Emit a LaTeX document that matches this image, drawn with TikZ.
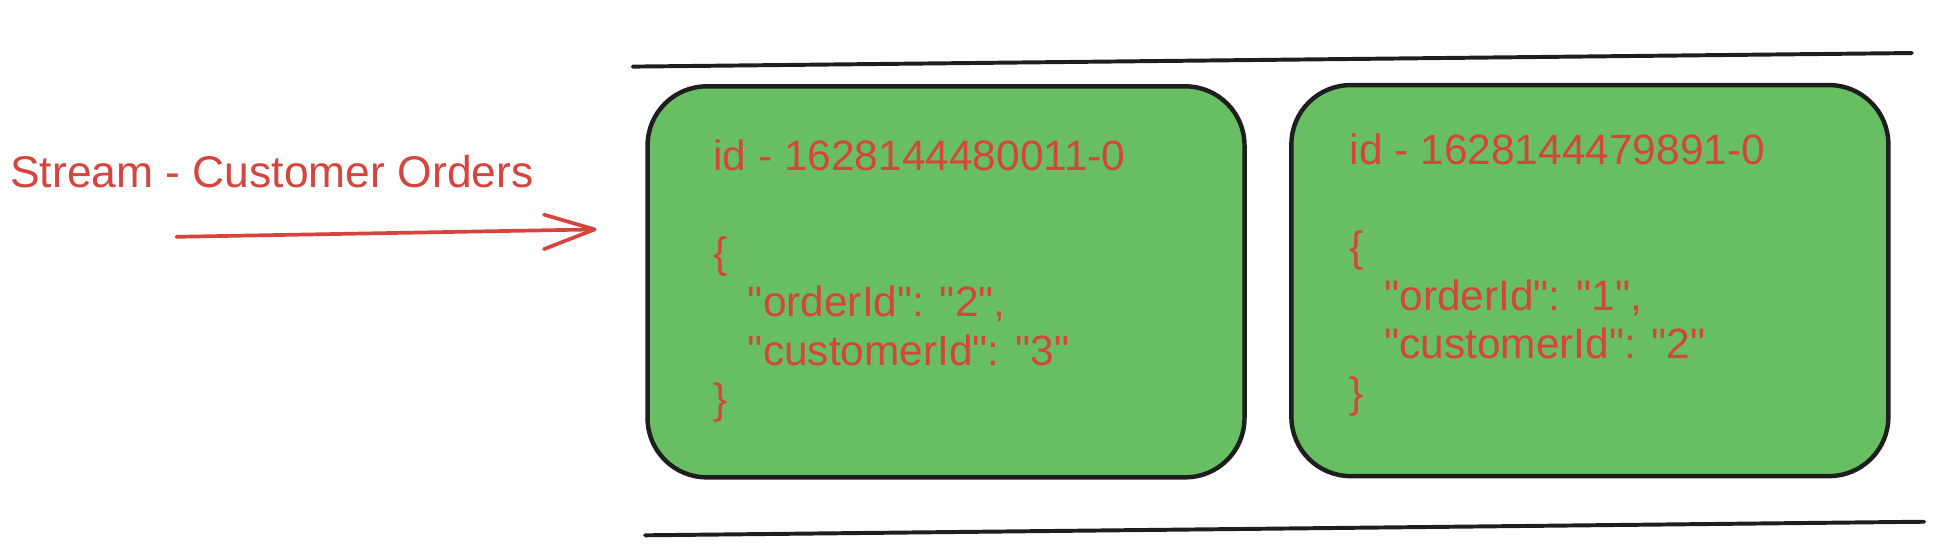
\documentclass[tikz,border=0pt]{standalone}
\usepackage{fontspec}
\setmainfont{Liberation Sans}[Ligatures=TeXOff]
\definecolor{inkred}{RGB}{214,69,61}
\definecolor{boxgreen}{RGB}{104,191,99}
\definecolor{inkblack}{RGB}{30,30,30}
\begin{document}
\begin{tikzpicture}[x=0.5pt,y=-0.5pt,
  recbox/.style={draw=inkblack,fill=boxgreen,line width=1.8pt,rounded corners=24pt,
    minimum width=242pt,minimum height=158.5pt,inner sep=0pt},
  rectext/.style={text=inkred,font=\fontsize{17.2}{19.7}\selectfont,align=left,
    anchor=north west,inner sep=0pt},
  title/.style={text=inkred,font=\fontsize{18}{20}\selectfont,anchor=base west,inner sep=0pt},
  rule/.style={draw=inkblack,line width=1.6pt,line cap=round},
  redarrow/.style={draw=inkred,line width=1.5pt,line cap=round,line join=round}]
\useasboundingbox (0,0) rectangle (1568,444);
% stream boundary lines
\coordinate (t1) at (513,54);
\coordinate (t2) at (1550,43);
\coordinate (u1) at (523,434);
\coordinate (u2) at (1560,423);
\draw[rule] (t1) -- (t2);
\draw[rule] (u1) -- (u2);
% records
\node[recbox] (box1) at (767,228.5) {};
\node[recbox] (box2) at (1289,227.5) {};
\node[rectext] (txt1) at (578,113) {id - 1628144480011-0\\ \\ \{\\ \hspace*{14pt}"orderId": "2",\\ \hspace*{14pt}"customerId": "3"\\ \}};
\node[rectext] (txt2) at (1094,108) {id - 1628144479891-0\\ \\ \{\\ \hspace*{14pt}"orderId": "1",\\ \hspace*{14pt}"customerId": "2"\\ \}};
% label and arrow
\node[title] (lbl) at (8,152) {Stream - Customer Orders};
\coordinate (a1) at (143,192);
\coordinate (a2) at (482,186);
\coordinate (h1) at (441,174);
\coordinate (h2) at (441,202);
\draw[redarrow] (a1) -- (a2);
\draw[redarrow] (h1) -- (a2) -- (h2);
\end{tikzpicture}
\end{document}
